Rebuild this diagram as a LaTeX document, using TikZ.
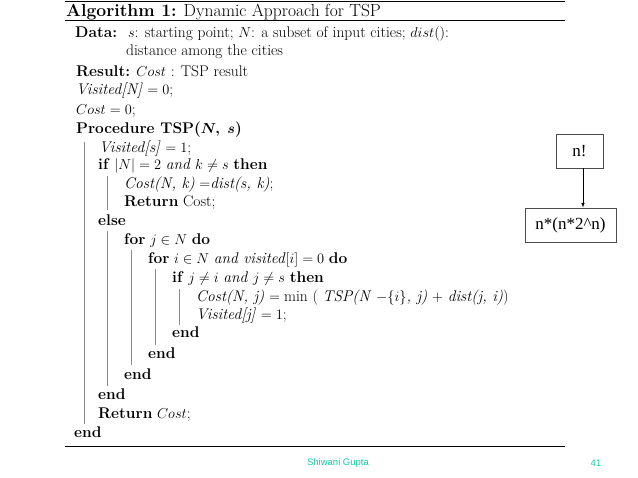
\documentclass[tikz,border=0pt]{standalone}
\usepackage{fontspec}
\newfontfamily\timesf{Liberation Serif}
\newfontfamily\arialf{Liberation Sans}
\usepackage{amsmath}
\definecolor{footc}{RGB}{20,205,170}
\begin{document}
\begin{tikzpicture}[x=1pt,y=1pt,
  ln/.style={anchor=base west,inner sep=0pt,font=\fontsize{15.5}{18}\selectfont},
  bar/.style={draw=black!45,line width=0.8pt},
  rule/.style={line width=1pt},
  cbox/.style={draw=black!70,line width=0.8pt,font=\timesf\fontsize{17}{19}\selectfont,inner sep=3pt},
  foot/.style={text=footc,font=\arialf\fontsize{9.5}{11}\selectfont}]
\useasboundingbox (0,0) rectangle (638,-478);
\fill[white] (0,0) rectangle (638,-478);
\draw[rule] (65,-2) -- (565,-2);
\draw[rule] (65,-21) -- (565,-21);
\draw[rule] (65,-447) -- (565,-447);
\node[ln,font=\fontsize{17.5}{19}\selectfont] (t) at (66,-17) {\textbf{Algorithm 1:} Dynamic Approach for TSP};
\node[ln] (l1) at (75,-38) {\textbf{Data:} \ $s$: starting point; $N$: a subset of input cities; $dist()$:};
\node[ln] (l2) at (126,-56) {distance among the cities};
\node[ln] (l3) at (76,-77) {\textbf{Result:} $Cost$ : TSP result};
\node[ln] (l4) at (76,-95) {\textit{Visited[N]} $=0$;};
\node[ln] (l5) at (76,-115) {$Cost=0$;};
\node[ln] (l6) at (76,-134) {\textbf{Procedure TSP(}$\boldsymbol{N,\ s}$\textbf{)}};
\node[ln] (l7) at (99,-153) {\textit{Visited[s]} $=1$;};
\node[ln] (l9) at (98,-170) {\textbf{if} $|N|=2$ \textit{and} $k\neq s$ \textbf{then}};
\node[ln] (l10) at (124,-189) {\textit{Cost(N, k)} $=$\textit{dist(s, k)};};
\node[ln] (l11) at (124,-207) {\textbf{Return} Cost;};
\node[ln] (l12) at (98,-226) {\textbf{else}};
\node[ln] (l13) at (124,-245) {\textbf{for} $j\in N$ \textbf{do}};
\node[ln] (l14) at (148,-264) {\textbf{for} $i\in N$ \textit{and visited}$[i]=0$ \textbf{do}};
\node[ln] (l15) at (172,-283) {\textbf{if} $j\neq i$ \textit{and} $j\neq s$ \textbf{then}};
\node[ln] (l16) at (196,-302) {\textit{Cost(N, j)} $=\min$ ( \textit{TSP(N} $-\{i\}$\textit{, j)} $+$ \textit{dist(j, i)})};
\node[ln] (l17) at (196,-320) {\textit{Visited[j]} $=1$;};
\node[ln] (l18) at (172,-338) {\textbf{end}};
\node[ln] (l19) at (148,-359) {\textbf{end}};
\node[ln] (l20) at (124,-380) {\textbf{end}};
\node[ln] (l21) at (98,-400) {\textbf{end}};
\node[ln] (l22) at (98,-419) {\textbf{Return} $Cost$;};
\node[ln] (l23) at (74,-438) {\textbf{end}};
% vertical bars
\draw[bar] (84,-142) -- (84,-424);
\draw[bar] (107,-176) -- (107,-210);
\draw[bar] (107,-231) -- (107,-386);
\draw[bar] (131,-250) -- (131,-365);
\draw[bar] (155,-269) -- (155,-345);
\draw[bar] (179,-289) -- (179,-325);
% boxes
\node[cbox,minimum width=47pt,minimum height=34pt] (nf) at (579.5,-151) {n!};
\node[cbox,minimum width=91pt,minimum height=34pt] (nc) at (570.5,-225) {n*(n*2\^{}n)};
\draw[-latex,line width=0.6pt] (nf.south -| 583,0) -- (nc.north -| 583,0);
\node[foot] (f1) at (338,-463) {Shiwani Gupta};
\node[foot] (f2) at (596,-463) {41};
\end{tikzpicture}
\end{document}
